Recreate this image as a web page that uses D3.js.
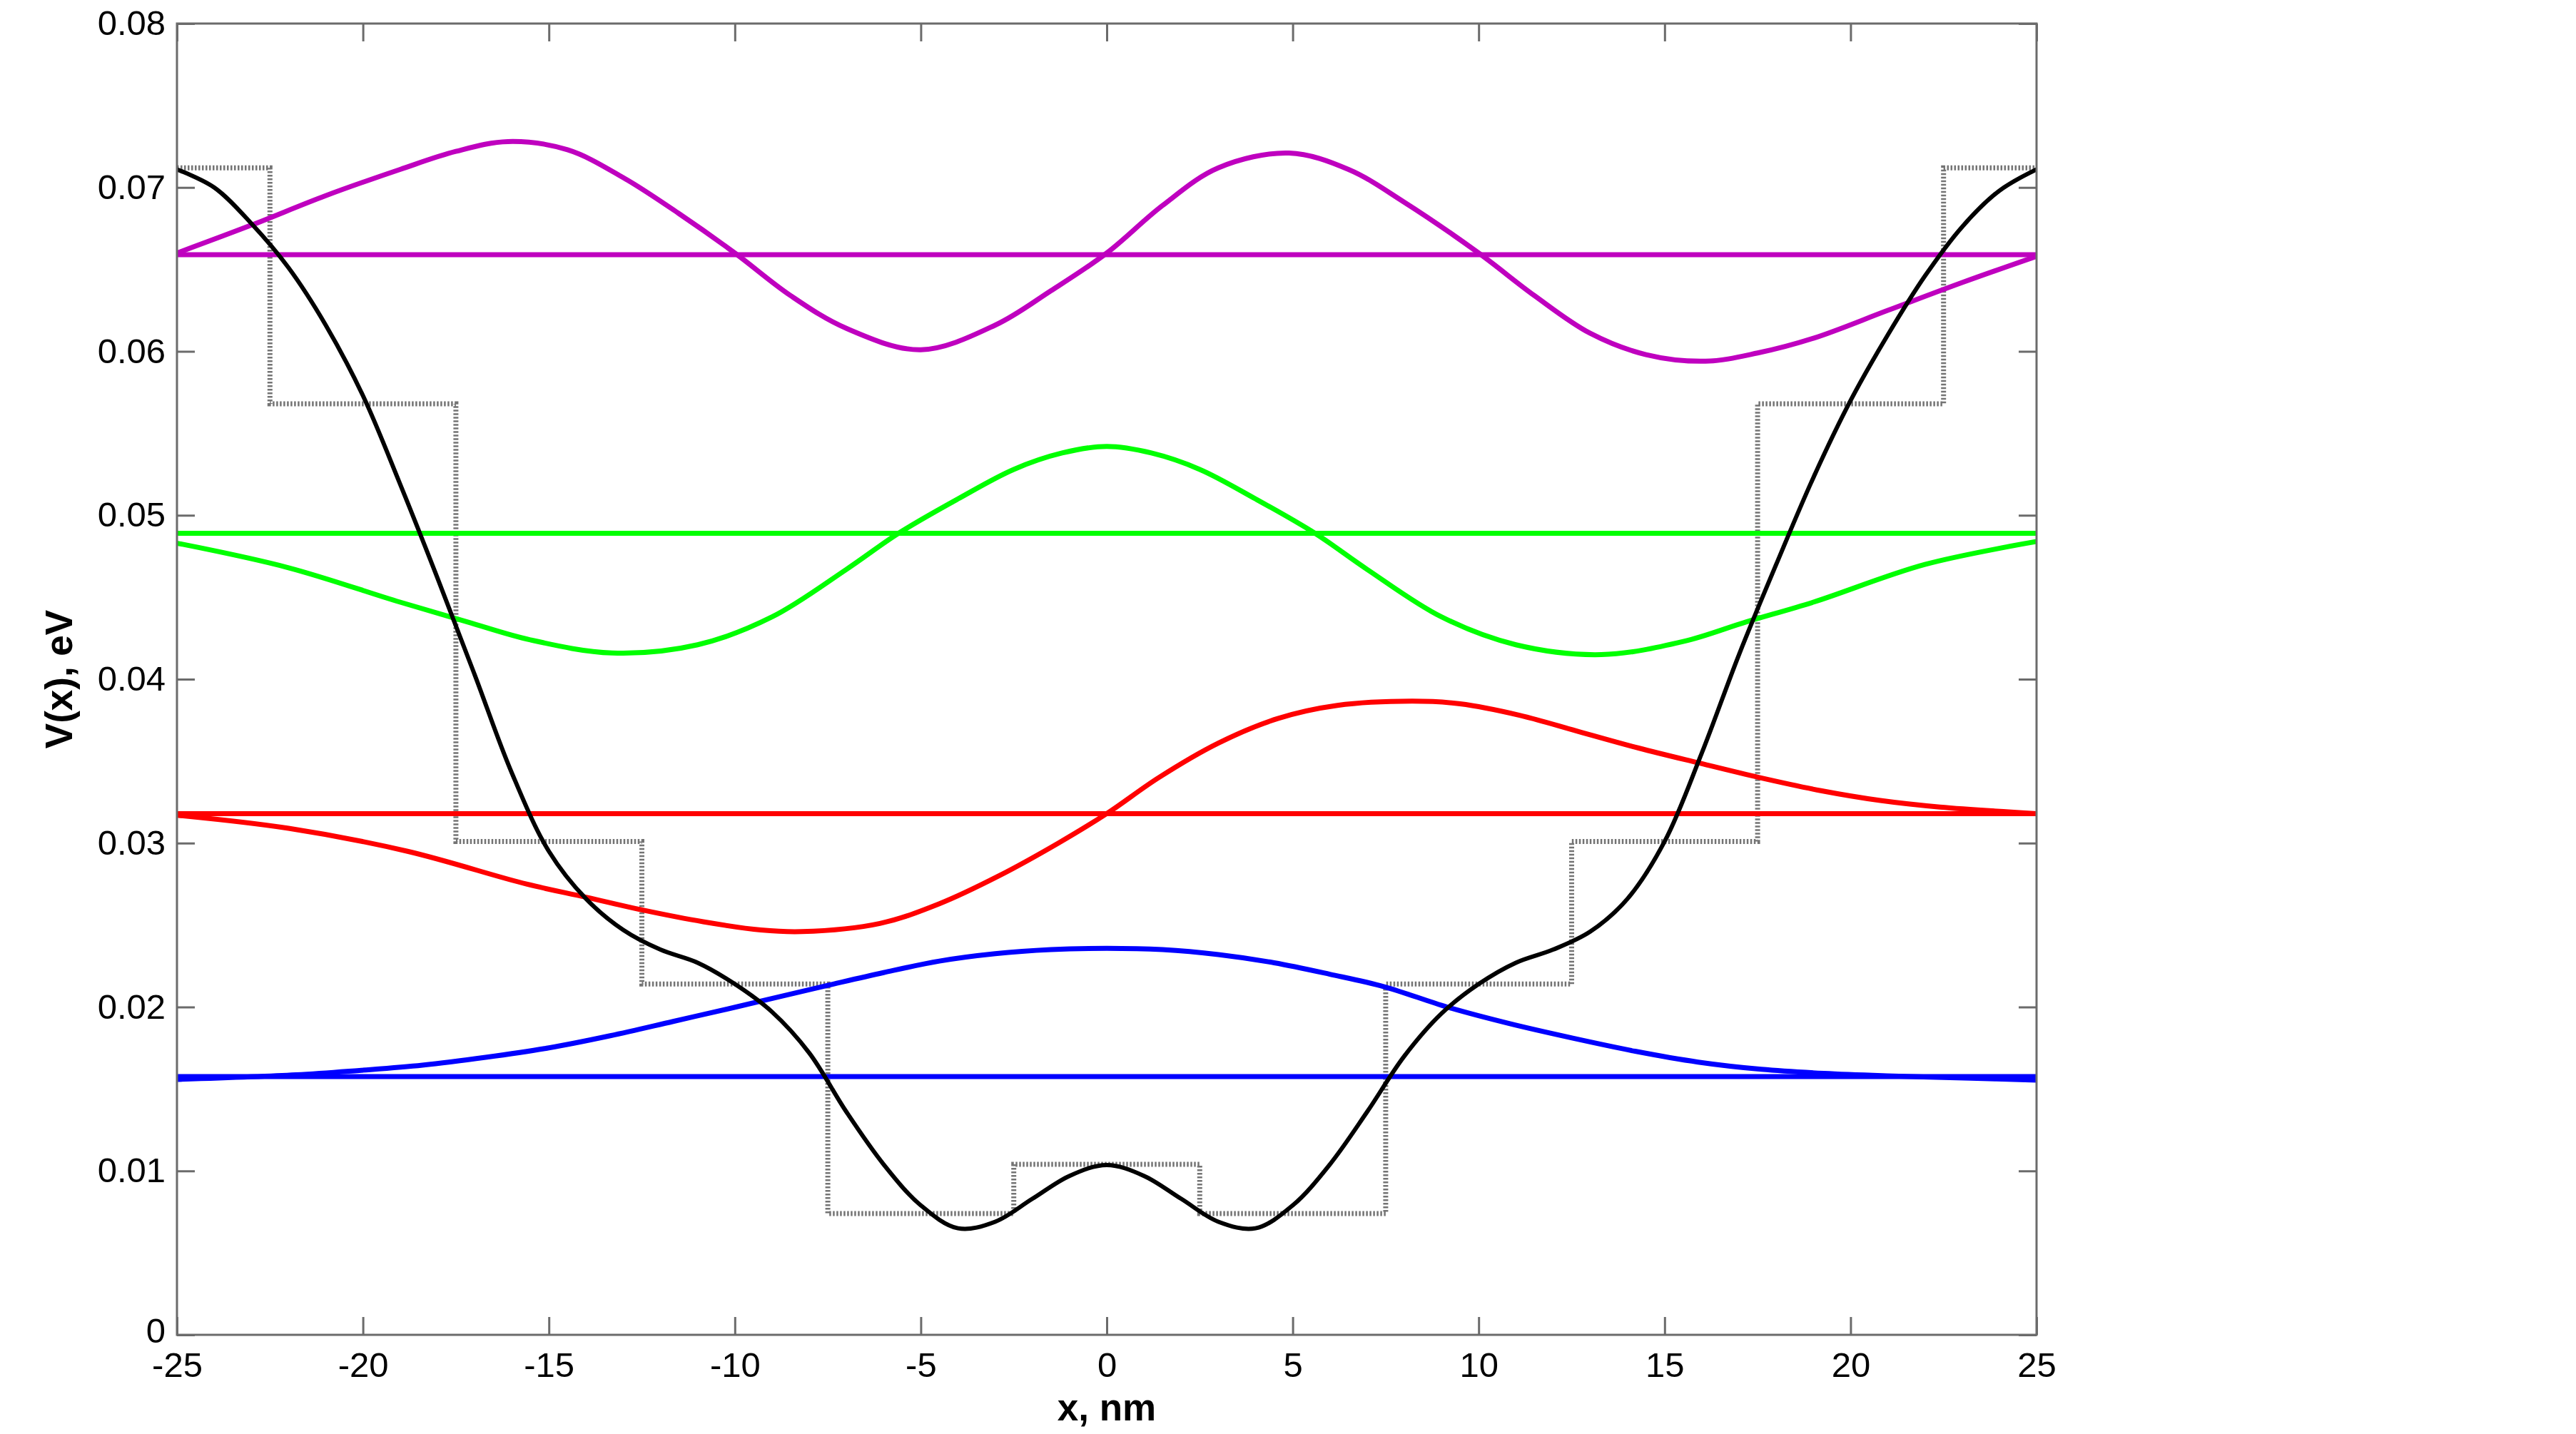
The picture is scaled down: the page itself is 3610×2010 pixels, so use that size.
<!DOCTYPE html>
<html>
<head>
<meta charset="utf-8">
<script src="https://cdn.jsdelivr.net/npm/d3@7"></script>
<style>
  html, body { margin: 0; padding: 0; background: #ffffff; }
  svg { display: block; }
</style>
</head>
<body>
<svg id="chart" width="3610" height="2010"></svg>
<script>
// ---------------- DATA ----------------
const xTicks = [-25, -20, -15, -10, -5, 0, 5, 10, 15, 20, 25];
const yTicks = [0, 0.01, 0.02, 0.03, 0.04, 0.05, 0.06, 0.07, 0.08];
const xLabel = "x, nm";
const yLabel = "V(x), eV";

// piecewise-constant (step) approximation of the potential
const stepX = [-25, -22.5, -17.5, -12.5, -7.5, -2.5, 2.5, 7.5, 12.5, 17.5, 22.5, 25];
const stepV = [0.0712, 0.0568, 0.0301, 0.0214, 0.0074, 0.0104, 0.0074, 0.0214, 0.0301, 0.0568, 0.0712, 0.0712];

// smooth potential V(x)
const potX = [-25, -24, -23, -22, -21, -20, -19, -18, -17, -16, -15, -14, -13, -12, -11, -10, -9, -8, -7, -6, -5, -4, -3, -2, -1, 0,
              1, 2, 3, 4, 5, 6, 7, 8, 9, 10, 11, 12, 13, 14, 15, 16, 17, 18, 19, 20, 21, 22, 23, 24, 25];
const potV = [0.0711, 0.0700, 0.0678, 0.0651, 0.0616, 0.0573, 0.0519, 0.0462, 0.0403, 0.0343, 0.0295, 0.0266, 0.0247, 0.0235, 0.0227, 0.0214, 0.0197, 0.0172, 0.0136, 0.0104, 0.0079, 0.0065, 0.0069, 0.0083, 0.0097, 0.01036,
              0.0097, 0.0083, 0.0069, 0.0065, 0.0079, 0.0104, 0.0136, 0.0170, 0.0196, 0.0214, 0.0227, 0.0235, 0.0246, 0.0266, 0.0301, 0.0355, 0.0415, 0.0470, 0.0523, 0.0570, 0.0610, 0.0646, 0.0676, 0.0698, 0.0711];

// energy levels
const levelE = [0.01576, 0.0318, 0.0489, 0.0659];
const levelColor = ["#0000ff", "#ff0000", "#00ff00", "#bf00bf"];

// wavefunctions (offset by their energy level)
const psi1X = [-25, -21.8, -20.1, -18.4, -16.7, -15.0, -13.35, -11.66, -9.97, -7.5, -6.0, -4.5, -3.0, -1.5, 0, 1.5, 3.0, 4.5, 6.0, 7.46, 9.15, 10.84, 12.53, 14.21, 15.9, 17.6, 19.28, 20.97, 23.23, 25];
const psi1Y = [0.01558, 0.01586, 0.01613, 0.01645, 0.01693, 0.01751, 0.01825, 0.01912, 0.0200, 0.02132, 0.0221, 0.0228, 0.02325, 0.02350, 0.02358, 0.0235, 0.0232, 0.0227, 0.0220, 0.02124, 0.0200, 0.01898, 0.0181, 0.0173, 0.01664, 0.0162, 0.01595, 0.0158, 0.01566, 0.01554];

const psi2X = [-25, -22, -18.8, -15.6, -14, -12.45, -10.85, -9.3, -8.2, -6.1, -4.5, -2.9, -1.3, 0, 1.4, 3.0, 4.6, 6.2, 8.2, 9.5, 11.1, 12.7, 14.3, 15.9, 17.55, 19.2, 20.8, 22.4, 25];
const psi2Y = [0.0317, 0.0309, 0.0295, 0.0275, 0.0267, 0.0259, 0.0252, 0.0247, 0.0246, 0.0251, 0.0263, 0.0280, 0.0300, 0.0318, 0.0340, 0.0361, 0.0376, 0.0384, 0.03866, 0.0385, 0.0378, 0.0368, 0.0358, 0.0349, 0.0340, 0.0332, 0.0326, 0.0322, 0.0318];

const psi3X = [-25, -22, -19, -17.2, -15.5, -13.3, -11, -9, -7, -5.6, -4, -2.5, -1.2, 0, 1.2, 2.5, 4, 5.6, 7, 9, 11, 13.3, 15.5, 17.2, 19, 22, 25];
const psi3Y = [0.0483, 0.0468, 0.0447, 0.0435, 0.0424, 0.0416, 0.0421, 0.0438, 0.0467, 0.0489, 0.0510, 0.0528, 0.0538, 0.0542, 0.0538, 0.0528, 0.0510, 0.0489, 0.0467, 0.0438, 0.0421, 0.0415, 0.0423, 0.0435, 0.0447, 0.0470, 0.0484];

const psi4X = [-25, -23, -21, -19, -17.5, -16.1, -14.5, -13, -11.5, -10, -8.5, -7, -5, -3, -1.5, 0, 1.5, 3, 4.9, 6.5, 8, 10, 11.5, 13, 14.5, 16.1, 17.5, 19, 21, 23, 25];
const psi4Y = [0.0660, 0.0677, 0.0695, 0.0711, 0.0722, 0.0728, 0.0723, 0.0706, 0.0684, 0.0660, 0.0634, 0.0614, 0.0601, 0.0616, 0.0637, 0.0660, 0.0689, 0.0712, 0.0721, 0.0711, 0.0691, 0.0660, 0.0634, 0.0611, 0.0598, 0.0594, 0.0599, 0.0608, 0.0625, 0.0642, 0.0658];

const psiX = [psi1X, psi2X, psi3X, psi4X];
const psiY = [psi1Y, psi2Y, psi3Y, psi4Y];

// ---------------- LAYOUT ----------------
const W = 3610, H = 2010;
const plot = { left: 248, right: 2854, top: 33, bottom: 1871 };
const axisColor = "#6b6b6b";
const fontFamily = "'Liberation Sans', Arial, Helvetica, sans-serif";

const svg = d3.select("#chart");
svg.append("rect").attr("width", W).attr("height", H).attr("fill", "#ffffff");

const x = d3.scaleLinear().domain([-25, 25]).range([plot.left, plot.right]);
const y = d3.scaleLinear().domain([0, 0.08]).range([plot.bottom, plot.top]);

const zip = (xs, ys) => xs.map((v, i) => [v, ys[i]]);

const smooth = d3.line().x(d => x(d[0])).y(d => y(d[1])).curve(d3.curveCatmullRom.alpha(0.5));
const straight = d3.line().x(d => x(d[0])).y(d => y(d[1]));
const stepped = d3.line().x(d => x(d[0])).y(d => y(d[1])).curve(d3.curveStepAfter);

const g = svg.append("g");
const clip = svg.append("clipPath").attr("id", "clipPlot");
clip.append("rect").attr("x", plot.left).attr("y", plot.top)
  .attr("width", plot.right - plot.left).attr("height", plot.bottom - plot.top);

const marks = g.append("g").attr("clip-path", "url(#clipPlot)");

// step potential (dotted gray)
marks.append("path")
  .attr("d", stepped(zip(stepX, stepV)))
  .attr("fill", "none")
  .attr("stroke", "#747474")
  .attr("stroke-width", 7)
  .attr("stroke-dasharray", "2.5,2.5");

// energy levels and wavefunctions
levelE.forEach((E, i) => {
  marks.append("path")
    .attr("d", straight([[-25, E], [25, E]]))
    .attr("fill", "none")
    .attr("stroke", levelColor[i])
    .attr("stroke-width", 7);
  marks.append("path")
    .attr("d", smooth(zip(psiX[i], psiY[i])))
    .attr("fill", "none")
    .attr("stroke", levelColor[i])
    .attr("stroke-width", 7)
    .attr("stroke-linejoin", "round");
});

// smooth potential (black)
marks.append("path")
  .attr("d", smooth(zip(potX, potV)))
  .attr("fill", "none")
  .attr("stroke", "#000000")
  .attr("stroke-width", 6)
  .attr("stroke-linejoin", "round");

// ---------------- AXES ----------------
const tickLen = 25;
function styleAxis(sel) {
  sel.selectAll(".domain").remove();
  sel.selectAll(".tick line").attr("stroke", axisColor).attr("stroke-width", 3);
  sel.selectAll(".tick text").attr("fill", "#000").attr("font-size", 49).attr("font-family", fontFamily);
  sel.attr("font-size", 49).attr("font-family", fontFamily);
}

const gx = g.append("g").attr("transform", `translate(0,${plot.bottom})`)
  .call(d3.axisBottom(x).tickValues(xTicks).tickFormat(d => String(d)).tickSizeInner(-tickLen).tickSizeOuter(0).tickPadding(24));
styleAxis(gx);

const gxTop = g.append("g").attr("transform", `translate(0,${plot.top})`)
  .call(d3.axisTop(x).tickValues(xTicks).tickFormat("").tickSizeInner(-tickLen).tickSizeOuter(0));
styleAxis(gxTop);

const gy = g.append("g").attr("transform", `translate(${plot.left},0)`)
  .call(d3.axisLeft(y).tickValues(yTicks).tickFormat(d => d === 0 ? "0" : d.toFixed(2)).tickSizeInner(-tickLen).tickSizeOuter(0).tickPadding(16));
styleAxis(gy);
// lift the "0" label slightly so it clears the "-25" label beneath it
gy.selectAll(".tick text").filter(d => d === 0).attr("dy", "0.22em");

const gyRight = g.append("g").attr("transform", `translate(${plot.right},0)`)
  .call(d3.axisRight(y).tickValues(yTicks).tickFormat("").tickSizeInner(-tickLen).tickSizeOuter(0));
styleAxis(gyRight);

// frame
g.append("rect")
  .attr("x", plot.left).attr("y", plot.top)
  .attr("width", plot.right - plot.left).attr("height", plot.bottom - plot.top)
  .attr("fill", "none").attr("stroke", axisColor).attr("stroke-width", 3);

// axis labels
g.append("text")
  .attr("x", (plot.left + plot.right) / 2)
  .attr("y", 1991)
  .attr("text-anchor", "middle")
  .attr("font-family", fontFamily)
  .attr("font-weight", "bold")
  .attr("font-size", 53)
  .attr("fill", "#000")
  .text(xLabel);

g.append("text")
  .attr("transform", `translate(101,${(plot.top + plot.bottom) / 2}) rotate(-90)`)
  .attr("text-anchor", "middle")
  .attr("font-family", fontFamily)
  .attr("font-weight", "bold")
  .attr("font-size", 53)
  .attr("fill", "#000")
  .text(yLabel);
</script>
</body>
</html>
